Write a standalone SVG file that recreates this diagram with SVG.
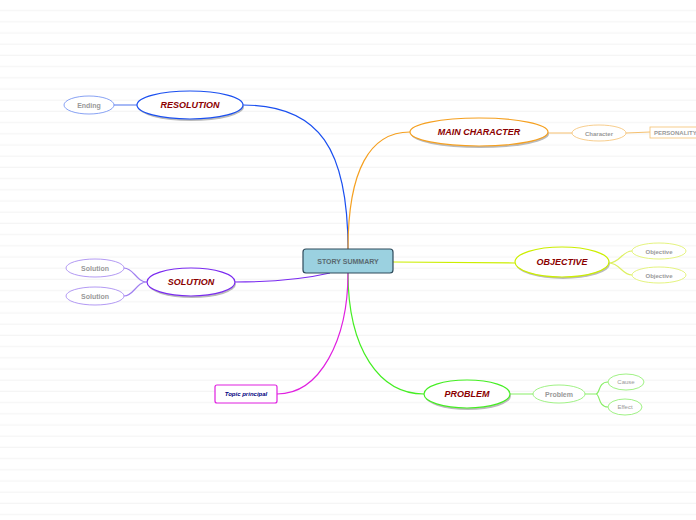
<svg xmlns="http://www.w3.org/2000/svg" width="696" height="520" viewBox="0 0 696 520">
<defs>
<pattern id="bg" width="696" height="11.2" patternUnits="userSpaceOnUse"><line x1="0" y1="10.5" x2="696" y2="10.5" stroke="#f2f2f2" stroke-width="1"/></pattern>
<style>
.m{fill:#fff;stroke-width:1.2}
.sh{fill:#bbb}
.mt{font-family:"Liberation Sans",Arial,sans-serif;font-size:9px;font-weight:bold;font-style:italic;fill:#8b0000;text-anchor:middle}
.st{font-family:"Liberation Sans",Arial,sans-serif;font-size:7px;font-weight:bold;fill:#999;text-anchor:middle}
.c{fill:none;stroke-width:1.2}
.s{fill:#fff;stroke-width:0.8}
</style>
</defs>
<rect width="696" height="520" fill="#fff"/>
<rect width="696" height="520" fill="url(#bg)"/>
<g id="connectors">
<path class="c" stroke="#1a4ff0" d="M348,249 C348,150 320,105 243,105"/>
<path class="c" stroke="#f5a020" d="M348,249 C348,170 370,132 410,132"/>
<path class="c" stroke="#ccee00" d="M393,262 L515,263"/>
<path class="c" stroke="#7a2af0" d="M330,273 C300,280 260,282 235,282"/>
<path class="c" stroke="#44ee22" d="M348,273 C348,350 380,394 424,394"/>
<path class="c" stroke="#e020e0" d="M348,273 C348,340 320,394 277,394"/>
<path class="c" stroke="#6a8af0" stroke-width="0.8" d="M137,105 L114,105"/>
<path class="c" stroke="#f5c070" stroke-width="0.8" d="M548,133 L572,133 M626,133 L650,132"/>
<path class="c" stroke="#ddf060" stroke-width="0.8" d="M609,263 C620,263 622,251 632,251 M609,263 C620,263 622,275 632,275"/>
<path class="c" stroke="#a080f0" stroke-width="0.8" d="M147,282 C136,282 134,268 124,268 M147,282 C136,282 134,296 124,296"/>
<path class="c" stroke="#88ee66" stroke-width="0.8" d="M510,394 L533,394 M585,394 L596,394 C600,394 598,382 608,382 M596,394 C600,394 598,407 608,407"/>
</g>
<g id="center"><rect x="303" y="249" width="90" height="24" rx="3" fill="#9bd1e0" stroke="#2e4a5a" stroke-width="1.2"/><text x="348" y="264" class="st" fill="#5a6a70" style="fill:#5a6a70">STORY SUMMARY</text></g>
<g id="resolution"><ellipse class="sh" cx="191" cy="107" rx="53" ry="14"/><ellipse class="m" stroke="#1a4ff0" cx="190" cy="105" rx="53" ry="14"/><text class="mt" x="190" y="108">RESOLUTION</text></g>
<g id="main-character"><ellipse class="sh" cx="480" cy="134" rx="69" ry="14"/><ellipse class="m" stroke="#f5a020" cx="479" cy="132" rx="69" ry="14"/><text class="mt" x="479" y="135">MAIN CHARACTER</text></g>
<g id="objective"><ellipse class="sh" cx="563" cy="264" rx="47" ry="15"/><ellipse class="m" stroke="#ccee00" cx="562" cy="262" rx="47" ry="15"/><text class="mt" x="562" y="265">OBJECTIVE</text></g>
<g id="solution"><ellipse class="sh" cx="192" cy="284" rx="44" ry="14"/><ellipse class="m" stroke="#7a2af0" cx="191" cy="282" rx="44" ry="14"/><text class="mt" x="191" y="285">SOLUTION</text></g>
<g id="problem"><ellipse class="sh" cx="468" cy="396" rx="43" ry="14"/><ellipse class="m" stroke="#44ee22" cx="467" cy="394" rx="43" ry="14"/><text class="mt" x="467" y="397">PROBLEM</text></g>
<g id="topic"><rect x="215" y="385" width="62" height="18" rx="2" fill="#fff" stroke="#e020e0" stroke-width="1.2"/><text x="246" y="396" style="font-family:'Liberation Sans',Arial,sans-serif;font-size:6px;font-weight:bold;font-style:italic;fill:#000080;text-anchor:middle">Topic principal</text></g>
<g id="ending"><ellipse class="s" stroke="#6a8af0" cx="89" cy="105" rx="25" ry="9"/><text class="st" x="89" y="108">Ending</text></g>
<g id="character"><ellipse class="s" stroke="#f5c070" cx="599" cy="133" rx="27" ry="8"/><text class="st" x="599" y="135.5" style="font-size:6px">Character</text></g>
<g id="personality"><rect class="s" stroke="#f5c070" x="650" y="127" width="60" height="11"/><text class="st" x="654" y="135" style="font-size:6px;text-anchor:start">PERSONALITY</text></g>
<g id="objective1"><ellipse class="s" stroke="#ddf060" cx="659" cy="251" rx="27" ry="8"/><text class="st" x="659" y="253.5" style="font-size:6px">Objective</text></g>
<g id="objective2"><ellipse class="s" stroke="#ddf060" cx="659" cy="275" rx="27" ry="8"/><text class="st" x="659" y="277.5" style="font-size:6px">Objective</text></g>
<g id="solution1"><ellipse class="s" stroke="#a080f0" cx="95" cy="268" rx="29" ry="9"/><text class="st" x="95" y="271">Solution</text></g>
<g id="solution2"><ellipse class="s" stroke="#a080f0" cx="95" cy="296" rx="29" ry="9"/><text class="st" x="95" y="299">Solution</text></g>
<g id="problem-sub"><ellipse class="s" stroke="#88ee66" cx="559" cy="394" rx="26" ry="9"/><text class="st" x="559" y="397">Problem</text></g>
<g id="cause"><ellipse class="s" stroke="#88ee66" cx="626" cy="382" rx="18" ry="8"/><text class="st" x="626" y="384" style="font-size:6px;font-weight:normal">Cause</text></g>
<g id="effect"><ellipse class="s" stroke="#88ee66" cx="625" cy="407" rx="17" ry="8"/><text class="st" x="625" y="409" style="font-size:6px;font-weight:normal">Effect</text></g>
</svg>
